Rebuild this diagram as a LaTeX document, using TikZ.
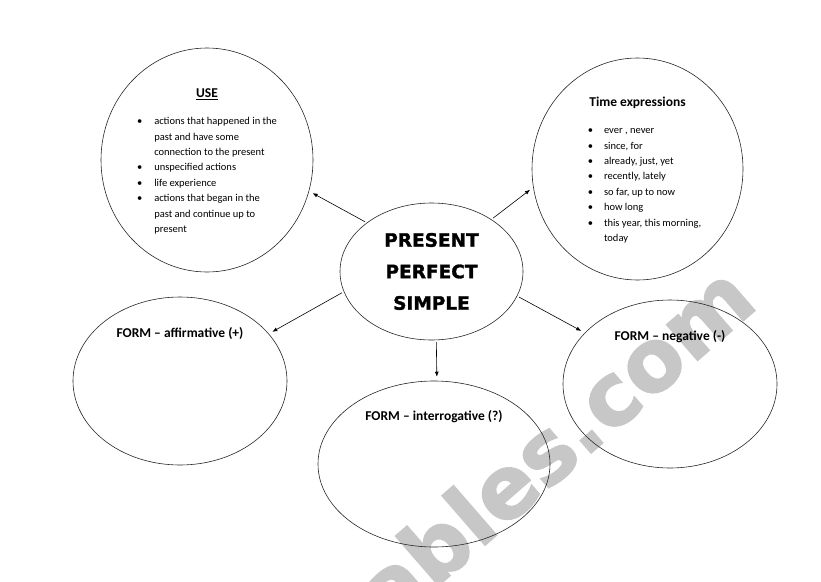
\documentclass[tikz,border=0pt]{standalone}
\usepackage{fontspec}
\setmainfont{Carlito}
\newfontfamily\centerfont[BoldFeatures={FakeBold=1.5}]{DejaVu Sans}
\newfontfamily\wmfont[BoldFeatures={FakeBold=2}]{DejaVu Sans}
\usetikzlibrary{positioning, arrows.meta, shapes.geometric}

\newcommand{\titlefont}{\fontsize{13.5}{16}\selectfont\bfseries}
\newcommand{\listfont}{\fontsize{10.5}{15.4}\selectfont\mdseries}

\tikzset{
  bubble/.style={draw=black!85, line width=0.6pt, ellipse, inner sep=0pt},
  formlbl/.style={font=\titlefont, inner sep=0pt},
  link/.style={-{Latex[length=5pt,width=4pt]}, line width=0.6pt, shorten <=2pt, shorten >=4pt},
  watermark/.style={rotate=41, anchor=base east, inner sep=0pt, text=black!22,
    font={\wmfont\bfseries\fontsize{86}{86}\selectfont}},
}

\begin{document}
\begin{tikzpicture}[x=1pt, y=-1pt]
\useasboundingbox (0,0) rectangle (821,581);

% watermark behind everything
\begin{scope}
\clip (0,0) rectangle (821,581);
\node[watermark] (wm) at (760,306) {eslprintables.com};
\end{scope}

% centre
\node[bubble, minimum width=183pt, minimum height=137pt, align=center,
  font={\centerfont\bfseries\fontsize{18.5}{31.5}\selectfont}] (ppc) at (431.5,271.5)
  {PRESENT\\PERFECT\\SIMPLE};

% use
\node[bubble, minimum width=212pt, minimum height=224pt, align=center, font=\titlefont] (use) at (207,160)
  {\rule{0pt}{15pt}\underline{USE}\\[11pt]\listfont
  \begin{tabular}[t]{@{}l@{\hspace{12pt}}l@{}}
  \textbullet & actions that happened in the\\
   & past and have some\\
   & connection to the present\\
  \textbullet & unspecified actions\\
  \textbullet & life experience\\
  \textbullet & actions that began in the\\
   & past and continue up to\\
   & present
  \end{tabular}};

% time expressions
\node[bubble, minimum width=211pt, minimum height=222pt, align=center, font=\titlefont] (time) at (637.5,169)
  {\rule{0pt}{15pt}Time expressions\\[11pt]\listfont\hspace*{14pt}%
  \begin{tabular}[t]{@{}l@{\hspace{11pt}}l@{}}
  \textbullet & ever , never\\
  \textbullet & since, for\\
  \textbullet & already, just, yet\\
  \textbullet & recently, lately\\
  \textbullet & so far, up to now\\
  \textbullet & how long\\
  \textbullet & this year, this morning,\\
   & today
  \end{tabular}};

% forms
\node[bubble, minimum width=214pt, minimum height=168pt] (affirm) at (180,381) {};
\node[formlbl, below=31pt of affirm.north] (affirmlbl) {FORM – affirmative (+)};

\node[bubble, minimum width=214pt, minimum height=168pt] (negat) at (670,384) {};
\node[formlbl, below=31pt of negat.north] (negatlbl) {FORM – negative (-)};

\node[bubble, minimum width=232pt, minimum height=166pt] (interr) at (434,464) {};
\node[formlbl, below=30pt of interr.north] (interrlbl) {FORM – interrogative (?)};

% arrows
\draw[link] (ppc.143) -- (use.-17);
\draw[link] (ppc.41) -- (time.190);
\draw[link] (ppc.193) -- (affirm.28);
\draw[link] (ppc.-16) -- (negat.149);
\draw[link] (ppc.-86) -- (interr.88);
\end{tikzpicture}
\end{document}
